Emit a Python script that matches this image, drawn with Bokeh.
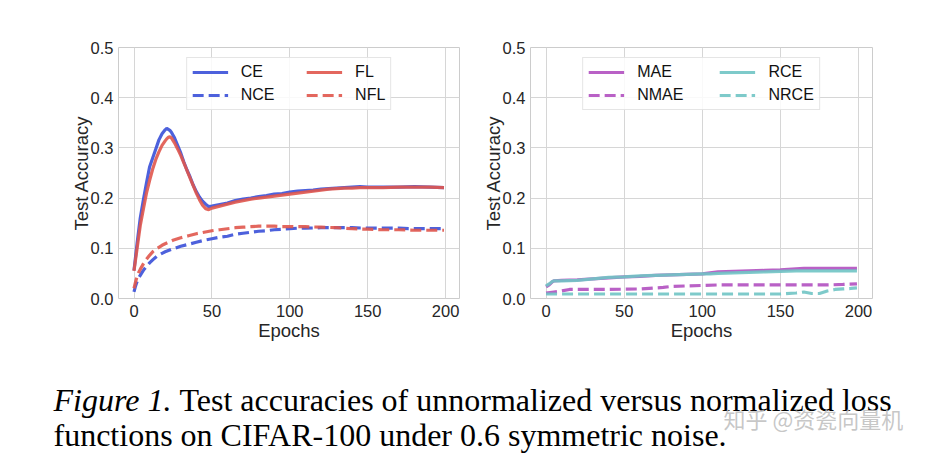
from bokeh.plotting import figure
from bokeh.models import Range1d, FixedTicker, Legend, LegendItem, Label
from bokeh.layouts import column, row
from bokeh.embed import file_html
from bokeh.resources import INLINE

# ---------------- data ----------------
ep_left = [0, 2, 4, 6, 8, 10, 12, 14, 16, 18, 20, 21, 22, 23, 24, 26, 28, 30, 32, 34, 36, 38, 40,
           42, 44, 46, 48, 50, 55, 60, 65, 70, 75, 80, 85, 90, 95, 100, 105, 110, 115, 120,
           125, 130, 135, 140, 145, 150, 160, 170, 180, 190, 199]
ce = [0.056, 0.11, 0.16, 0.196, 0.23, 0.262, 0.28, 0.298, 0.316, 0.328, 0.336, 0.339, 0.337, 0.335,
      0.331, 0.32, 0.305, 0.29, 0.272, 0.256, 0.242, 0.226, 0.213, 0.202, 0.194, 0.188, 0.183, 0.184,
      0.187, 0.19, 0.195, 0.198, 0.2, 0.203, 0.205, 0.208, 0.209, 0.212, 0.214, 0.215, 0.216, 0.218,
      0.219, 0.22, 0.221, 0.222, 0.223, 0.222, 0.222, 0.222, 0.223, 0.222, 0.221]
fl = [0.055, 0.1, 0.145, 0.178, 0.21, 0.235, 0.258, 0.277, 0.292, 0.305, 0.314, 0.318, 0.321, 0.322,
      0.32, 0.31, 0.298, 0.285, 0.27, 0.255, 0.24, 0.225, 0.21, 0.197, 0.186, 0.179, 0.177, 0.18,
      0.184, 0.188, 0.192, 0.195, 0.198, 0.2, 0.202, 0.204, 0.206, 0.208, 0.21, 0.212, 0.214, 0.216,
      0.218, 0.219, 0.22, 0.22, 0.221, 0.221, 0.221, 0.222, 0.222, 0.222, 0.221]

ep_norm = [0, 1, 2, 3, 4, 6, 8, 10, 12, 15, 18, 20, 25, 30, 35, 40, 45, 50, 55, 60, 65, 70, 75, 80,
           85, 90, 95, 100, 105, 110, 120, 130, 140, 150, 160, 170, 180, 190, 199]
nce = [0.013, 0.025, 0.034, 0.041, 0.046, 0.056, 0.064, 0.071, 0.077, 0.085, 0.09, 0.093, 0.099,
       0.104, 0.108, 0.112, 0.116, 0.119, 0.122, 0.124, 0.128, 0.13, 0.132, 0.134, 0.135, 0.137,
       0.138, 0.139, 0.14, 0.14, 0.141, 0.141, 0.141, 0.14, 0.14, 0.14, 0.139, 0.139, 0.139]
nfl = [0.02, 0.033, 0.044, 0.052, 0.058, 0.069, 0.078, 0.086, 0.093, 0.1, 0.106, 0.109, 0.116,
       0.121, 0.125, 0.129, 0.132, 0.135, 0.137, 0.139, 0.141, 0.142, 0.143, 0.144, 0.144, 0.144,
       0.143, 0.143, 0.143, 0.143, 0.142, 0.141, 0.139, 0.138, 0.137, 0.137, 0.136, 0.136, 0.136]

ep_right = [0, 2, 4, 5, 10, 20, 30, 40, 50, 60, 70, 80, 90, 100, 105, 110, 120, 130, 140, 150,
            160, 165, 170, 180, 190, 199]
mae = [0.023, 0.027, 0.033, 0.035, 0.036, 0.037, 0.039, 0.041, 0.043, 0.044, 0.046, 0.047, 0.048,
       0.049, 0.051, 0.053, 0.054, 0.055, 0.056, 0.057, 0.059, 0.06, 0.06, 0.06, 0.06, 0.06]
rce = [0.025, 0.029, 0.034, 0.035, 0.035, 0.036, 0.039, 0.042, 0.043, 0.045, 0.046, 0.047, 0.048,
       0.049, 0.049, 0.05, 0.051, 0.052, 0.053, 0.054, 0.055, 0.055, 0.055, 0.055, 0.055, 0.055]
ep_nmae = [0, 5, 10, 15, 20, 40, 60, 70, 75, 80, 90, 100, 110, 120, 150, 180, 190, 199]
nmae = [0.011, 0.013, 0.015, 0.018, 0.018, 0.018, 0.019, 0.021, 0.022, 0.024, 0.025, 0.026, 0.027,
        0.027, 0.027, 0.027, 0.028, 0.029]
ep_nrce = [0, 20, 50, 100, 150, 160, 165, 170, 175, 180, 185, 190, 195, 199]
nrce = [0.009, 0.009, 0.009, 0.009, 0.009, 0.011, 0.013, 0.01, 0.01, 0.015, 0.018, 0.019, 0.02, 0.021]

x_ticks = [0, 50, 100, 150, 200]
x_tick_labels = ["0", "50", "100", "150", "200"]
y_ticks = [0.0, 0.1, 0.2, 0.3, 0.4, 0.5]
y_tick_labels = ["0.0", "0.1", "0.2", "0.3", "0.4", "0.5"]

caption_italic = "Figure 1."
caption_line1 = "Test accuracies of unnormalized versus normalized loss"
caption_line2 = "functions on CIFAR-100 under 0.6 symmetric noise."
watermark = "知乎 @资瓷向量机"

BLUE = "#3a50d8"
RED = "#e0574c"
PURPLE = "#b150c0"
TEAL = "#70c4c4"
SANS = "Liberation Sans"
TXT = "#262626"


def make_fig(border_left, border_right, fw):
    p = figure(frame_width=fw, frame_height=251, output_backend="svg", toolbar_location=None,
               x_range=Range1d(-9.95, 208.95), y_range=Range1d(0, 0.5),
               min_border_left=border_left, min_border_right=border_right,
               min_border_top=47, min_border_bottom=55)
    p.background_fill_color = "white"
    p.border_fill_color = "white"
    p.outline_line_color = "#cccccc"
    p.outline_line_width = 1
    for ax in (p.xaxis, p.yaxis):
        ax.axis_line_color = None
        ax.major_tick_line_color = None
        ax.minor_tick_line_color = None
        ax.major_tick_out = 0
        ax.major_tick_in = 0
        ax.minor_tick_out = 0
        ax.minor_tick_in = 0
        ax.major_label_text_font = SANS
        ax.major_label_text_font_size = "16.5px"
        ax.major_label_text_color = TXT
        ax.axis_label_text_font = SANS
        ax.axis_label_text_font_size = "18.5px"
        ax.axis_label_text_font_style = "normal"
        ax.axis_label_text_color = TXT
    p.xaxis.axis_label_standoff = 0
    p.yaxis.axis_label_standoff = -4
    p.xaxis.major_label_standoff = 6
    p.yaxis.major_label_standoff = 5
    p.xaxis.ticker = FixedTicker(ticks=x_ticks)
    p.xaxis.major_label_overrides = dict(zip(x_ticks, x_tick_labels))
    p.yaxis.ticker = FixedTicker(ticks=y_ticks)
    p.yaxis.major_label_overrides = dict(zip(y_ticks, y_tick_labels))
    p.xaxis.axis_label = "Epochs"
    p.yaxis.axis_label = "Test Accuracy"
    p.xgrid.grid_line_color = "#d6d6d6"
    p.ygrid.grid_line_color = "#d6d6d6"
    p.xgrid.ticker = FixedTicker(ticks=x_ticks)
    p.ygrid.ticker = FixedTicker(ticks=y_ticks)
    return p


def style_legend(lg):
    lg.location = "top_center"
    lg.orientation = "vertical"
    lg.ncols = 2
    lg.margin = 10
    lg.padding = 5
    lg.spacing = 5
    lg.glyph_width = 36
    lg.glyph_height = 18
    lg.label_standoff = 13
    lg.label_width = 20
    lg.label_text_font = SANS
    lg.label_text_font_size = "16px"
    lg.label_text_color = "#111111"
    lg.border_line_color = "#cccccc"
    lg.border_line_width = 1
    lg.background_fill_color = "white"
    lg.background_fill_alpha = 0.85


LW = 3.2
DASH = "11 5"
PAD1 = " " * 6
PAD2 = " " * 7

p1 = make_fig(118, 15, 341)
r_ce = p1.line(ep_left, ce, line_color=BLUE, line_width=LW, line_alpha=0.9)
r_fl = p1.line(ep_left, fl, line_color=RED, line_width=LW, line_alpha=0.9)
r_nce = p1.line(ep_norm, nce, line_color=BLUE, line_width=LW, line_alpha=0.9, line_dash=DASH)
r_nfl = p1.line(ep_norm, nfl, line_color=RED, line_width=LW, line_alpha=0.9, line_dash=DASH)
lg1 = Legend(items=[LegendItem(label="CE" + PAD1, renderers=[r_ce]),
                    LegendItem(label="NCE" + PAD1, renderers=[r_nce]),
                    LegendItem(label="FL", renderers=[r_fl]),
                    LegendItem(label="NFL", renderers=[r_nfl])])
style_legend(lg1)
p1.add_layout(lg1, "center")

p2 = make_fig(56, 20, 342)
r_mae = p2.line(ep_right, mae, line_color=PURPLE, line_width=LW, line_alpha=0.9)
r_rce = p2.line(ep_right, rce, line_color=TEAL, line_width=LW, line_alpha=0.9)
r_nmae = p2.line(ep_nmae, nmae, line_color=PURPLE, line_width=LW, line_alpha=0.9, line_dash=DASH)
r_nrce = p2.line(ep_nrce, nrce, line_color=TEAL, line_width=LW, line_alpha=0.9, line_dash=DASH)
lg2 = Legend(items=[LegendItem(label="MAE" + PAD2, renderers=[r_mae]),
                    LegendItem(label="NMAE" + PAD2, renderers=[r_nmae]),
                    LegendItem(label="RCE", renderers=[r_rce]),
                    LegendItem(label="NRCE", renderers=[r_nrce])])
style_legend(lg2)
p2.add_layout(lg2, "center")

# caption
CAP_H = 108
cap = figure(width=918, height=CAP_H, output_backend="svg", toolbar_location=None,
             x_range=Range1d(0, 918), y_range=Range1d(0, CAP_H),
             min_border=0, min_border_left=0, min_border_right=0, min_border_top=0, min_border_bottom=0)
cap.axis.visible = False
cap.grid.visible = False
cap.outline_line_color = None
cap.background_fill_color = "white"
cap.border_fill_color = "white"

SERIF = "Liberation Serif"
cap.add_layout(Label(x=53, y=62, x_units="screen", y_units="screen", text=caption_italic,
                     text_font=SERIF, text_font_size="32px", text_font_style="italic",
                     text_color="black", text_baseline="alphabetic"))
cap.add_layout(Label(x=179, y=62, x_units="screen", y_units="screen", text=caption_line1,
                     text_font=SERIF, text_font_size="32px", text_color="black",
                     text_baseline="alphabetic"))
cap.add_layout(Label(x=53, y=27, x_units="screen", y_units="screen", text=caption_line2,
                     text_font=SERIF, text_font_size="32px", text_color="black",
                     text_baseline="alphabetic"))
cap.add_layout(Label(x=723, y=44, x_units="screen", y_units="screen", text=watermark,
                     text_font="Noto Sans CJK SC", text_font_size="22px", text_color="#bdbdbd",
                     text_alpha=0.85, text_baseline="middle"))

layout = column(row(p1, p2), cap)
open("out.html", "w").write(file_html(layout, INLINE))
